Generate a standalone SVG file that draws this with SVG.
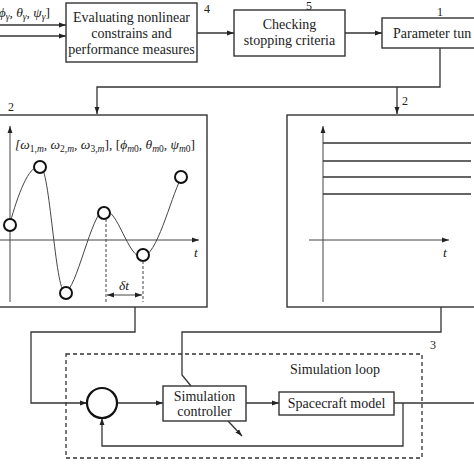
<svg xmlns="http://www.w3.org/2000/svg" width="474" height="474" viewBox="0 0 474 474">
<defs>
<marker id="ah" viewBox="0 0 10 10" refX="10" refY="5" markerWidth="7" markerHeight="7" markerUnits="userSpaceOnUse" orient="auto"><path d="M0,1.5 L10,5 L0,8.5 z" fill="#222"/></marker>
<marker id="ahs" viewBox="0 0 10 10" refX="0" refY="5" markerWidth="7" markerHeight="7" markerUnits="userSpaceOnUse" orient="auto"><path d="M10,1.5 L0,5 L10,8.5 z" fill="#222"/></marker>
<style>
.box{fill:#fff;stroke:#333;stroke-width:1.4}
.ln{fill:none;stroke:#333;stroke-width:1.3}
.thin{fill:none;stroke:#444;stroke-width:1}
.t{font-family:"Liberation Serif","DejaVu Serif",serif;font-size:14px;fill:#222;text-anchor:middle}
.ts{text-anchor:start}
.m{font-family:"Liberation Serif","DejaVu Serif",serif;font-size:13.5px;fill:#222;font-style:italic}
.n{font-family:"Liberation Serif","DejaVu Serif",serif;font-size:12px;fill:#222}
.sub{font-size:9.5px}
.c{fill:#fff;stroke:#111;stroke-width:2}
</style>
</defs>
<rect width="474" height="474" fill="#fff"/>

<g id="connectors">
<path class="ln" d="M0,25 H66" marker-end="url(#ah)"/>
<path class="ln" d="M0,36 H66" marker-end="url(#ah)"/>
<path class="ln" d="M197,33 H234" marker-end="url(#ah)"/>
<path class="ln" d="M345,33 H382" marker-end="url(#ah)"/>
<path class="ln" d="M440,48 V87 H97 V114" marker-end="url(#ah)"/>
<path class="ln" d="M397,87 V114" marker-end="url(#ah)"/>
<path class="ln" d="M135,307 V332 H31 V403 H87" marker-end="url(#ah)"/>
<path class="ln" d="M441,307 V332 H182 V375 L191,386"/>
<path class="ln" d="M117,403 H163" marker-end="url(#ah)"/>
<path class="ln" d="M228,421 L242,436" marker-end="url(#ah)"/>
<path class="ln" d="M246,403 H279" marker-end="url(#ah)"/>
<path class="ln" d="M394,403 H474"/>
<path class="ln" d="M403,403 V446 H102 V418" marker-end="url(#ah)"/>
<text class="n" x="402" y="105">2</text>
</g>

<g id="inputs">
<text class="m" x="50" y="17" text-anchor="end">[ϕ<tspan class="sub" dy="3">γ</tspan><tspan dy="-3">, θ</tspan><tspan class="sub" dy="3">γ</tspan><tspan dy="-3">, ψ</tspan><tspan class="sub" dy="3">γ</tspan><tspan dy="-3" font-style="normal">]</tspan></text>
</g>

<g id="node4">
<rect class="box" x="66" y="3" width="131" height="59"/>
<text class="t" x="131.5" y="22">Evaluating nonlinear</text>
<text class="t" x="131.5" y="38">constrains and</text>
<text class="t" x="131.5" y="54">performance measures</text>
<text class="n" x="204" y="13">4</text>
</g>

<g id="node5">
<rect class="box" x="234" y="10" width="111" height="46"/>
<text class="t" x="289.5" y="29">Checking</text>
<text class="t" x="289.5" y="45">stopping criteria</text>
<text class="n" x="306" y="10">5</text>
</g>

<g id="node1">
<rect class="box" x="382" y="18" width="100" height="30"/>
<text class="t ts" x="393" y="38">Parameter tun</text>
<text class="n" x="437" y="16">1</text>
</g>

<g id="node2a">
<rect class="box" x="-5" y="115" width="212" height="192"/>
<text class="n" x="8" y="111">2</text>
<path class="thin" d="M10,302 V126" marker-end="url(#ah)"/>
<path class="thin" d="M0,240 H199" marker-end="url(#ah)"/>
<text class="m" x="194" y="257">t</text>
<text class="m" x="15" y="149">[ω<tspan class="sub" dy="3" font-style="normal">1,</tspan><tspan class="sub">m</tspan><tspan dy="-3">, ω</tspan><tspan class="sub" dy="3" font-style="normal">2,</tspan><tspan class="sub">m</tspan><tspan dy="-3">, ω</tspan><tspan class="sub" dy="3" font-style="normal">3,</tspan><tspan class="sub">m</tspan><tspan dy="-3" font-style="normal">], [</tspan>ϕ<tspan class="sub" dy="3">m</tspan><tspan class="sub" font-style="normal">0</tspan><tspan dy="-3">, θ</tspan><tspan class="sub" dy="3">m</tspan><tspan class="sub" font-style="normal">0</tspan><tspan dy="-3">, ψ</tspan><tspan class="sub" dy="3">m</tspan><tspan class="sub" font-style="normal">0</tspan><tspan dy="-3" font-style="normal">]</tspan></text>
<path class="thin" stroke-width="1.2" d="M10,223 C18,195 28,166 40,166 C50,166 55,292 65,292 C76,292 92,211 104,210 C118,209 128,258 142,257 C157,256 170,200 181,178"/>
<circle class="c" cx="10" cy="225" r="6"/>
<circle class="c" cx="40" cy="167" r="6"/>
<circle class="c" cx="66" cy="293" r="6"/>
<circle class="c" cx="104" cy="213" r="6"/>
<circle class="c" cx="143" cy="255" r="6"/>
<circle class="c" cx="181" cy="177" r="6"/>
<path class="thin" stroke-dasharray="3,2" d="M106,219 V302 M143,261 V302"/>
<path class="thin" d="M107,295 H142" marker-start="url(#ahs)" marker-end="url(#ah)"/>
<text class="m" x="124" y="290" text-anchor="middle">δt</text>
</g>

<g id="node2b">
<rect class="box" x="287" y="115" width="200" height="192"/>
<path class="thin" d="M323,302 V126" marker-end="url(#ah)"/>
<path class="thin" d="M309,240 H449" marker-end="url(#ah)"/>
<text class="m" x="443" y="257">t</text>
<path class="ln" d="M323,143 H471 M323,161 H471 M323,177 H471 M323,194 H471"/>
</g>

<g id="node3">
<rect x="66" y="354" width="356" height="104" fill="none" stroke="#333" stroke-width="1.3" stroke-dasharray="4,3"/>
<text class="n" x="430" y="349">3</text>
<text class="t" x="335" y="374">Simulation loop</text>
</g>

<g id="sum">
<circle cx="102" cy="403" r="15" fill="#fff" stroke="#111" stroke-width="2.2"/>
</g>

<g id="controller">
<rect class="box" x="163" y="386" width="83" height="35"/>
<text class="t" x="204.5" y="401">Simulation</text>
<text class="t" x="204.5" y="416">controller</text>
</g>

<g id="spacecraft">
<rect class="box" x="279" y="392" width="115" height="23"/>
<text class="t" x="336.5" y="408">Spacecraft model</text>
</g>
</svg>
